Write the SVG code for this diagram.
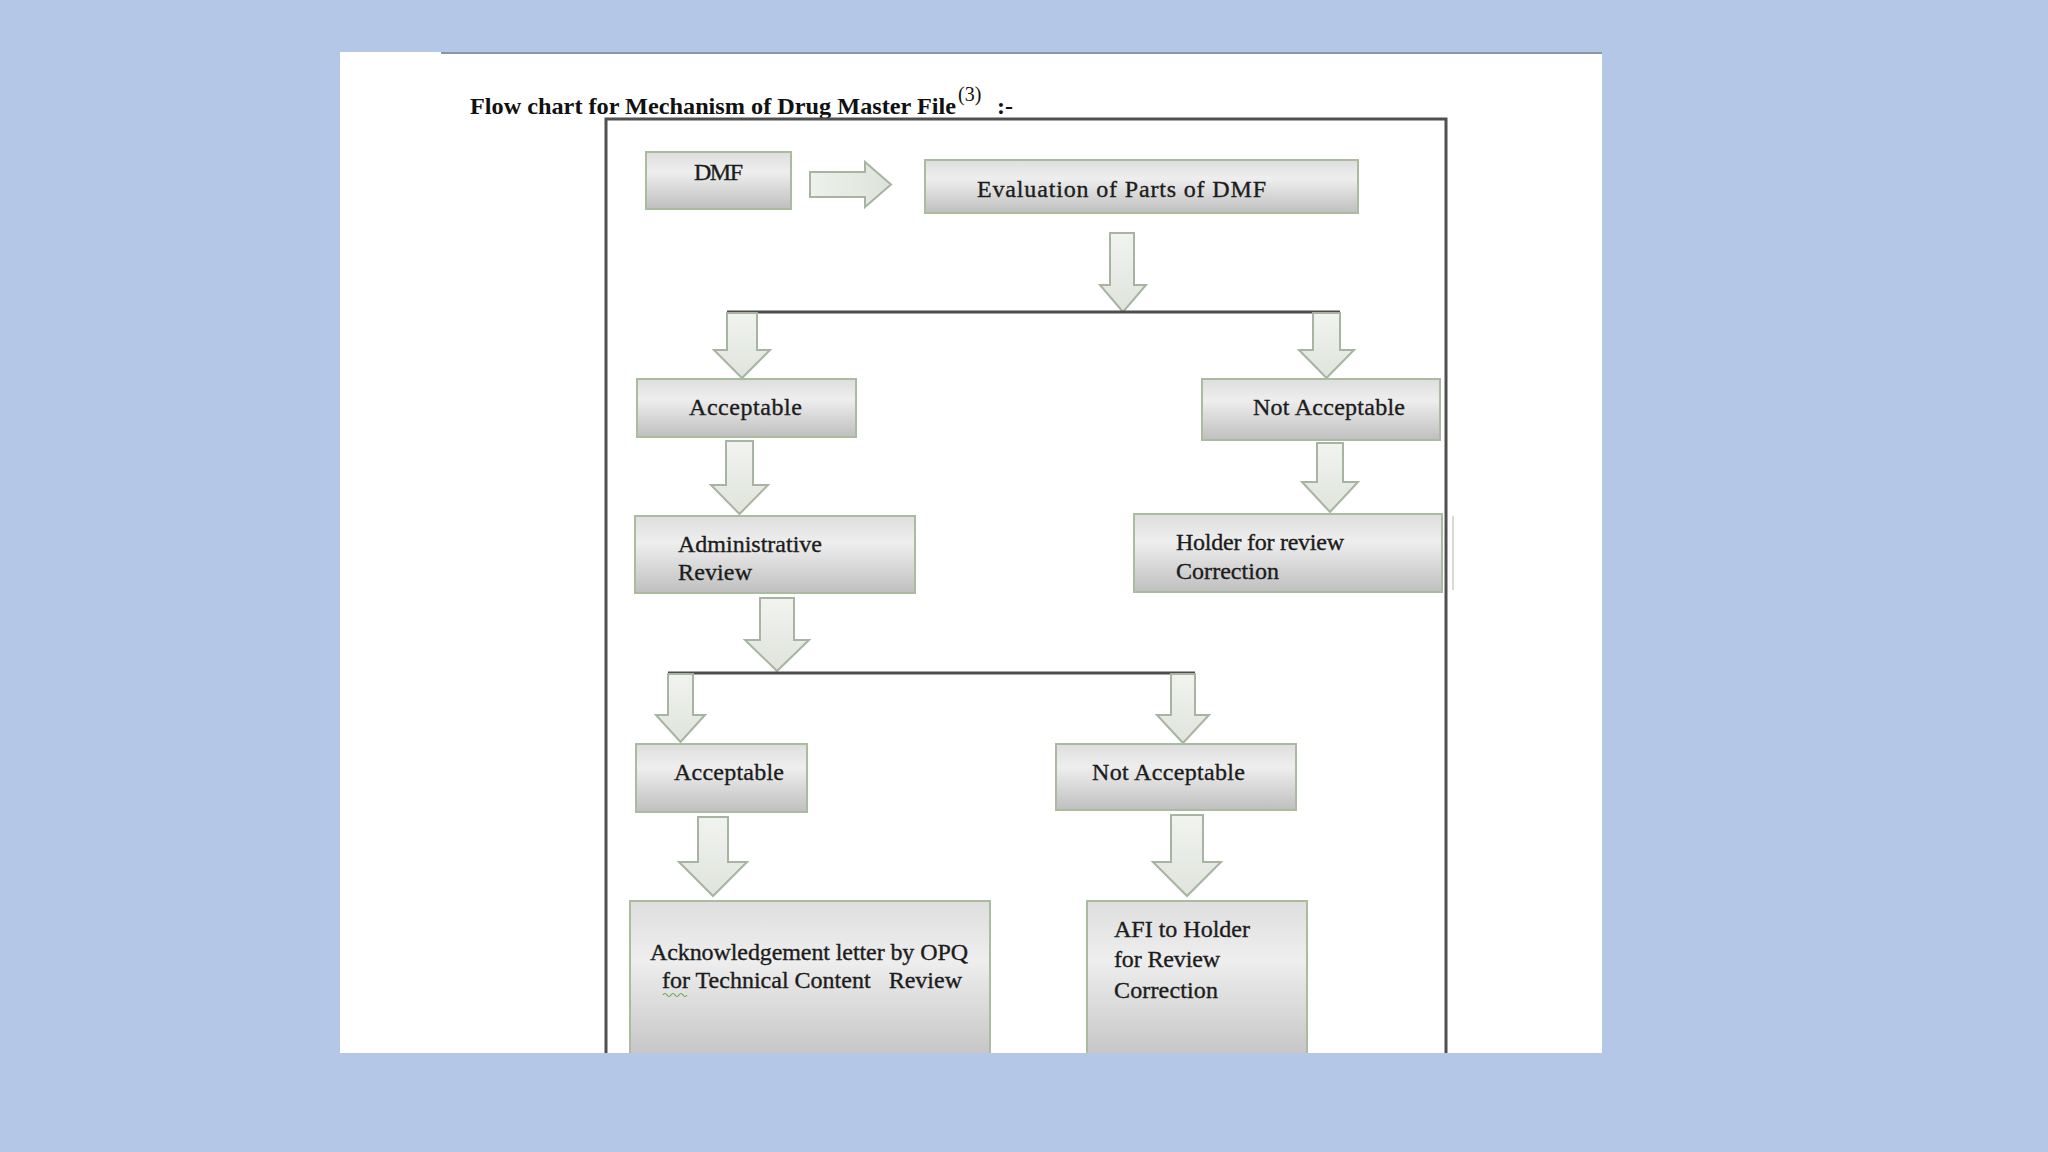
<svg xmlns="http://www.w3.org/2000/svg" width="2048" height="1152" viewBox="0 0 2048 1152">
  <defs>
    <linearGradient id="boxGrad" x1="0" y1="0" x2="0" y2="1">
      <stop offset="0" stop-color="#dedede"/>
      <stop offset="0.35" stop-color="#eeeeee"/>
      <stop offset="1" stop-color="#bfbfbf"/>
    </linearGradient>
    <linearGradient id="arrowGrad" x1="0" y1="0" x2="0" y2="1">
      <stop offset="0" stop-color="#f1f3ef"/>
      <stop offset="1" stop-color="#dfe4dc"/>
    </linearGradient>
    <linearGradient id="arrowGradH" x1="0" y1="0" x2="1" y2="0">
      <stop offset="0" stop-color="#eef1ec"/>
      <stop offset="1" stop-color="#dde3da"/>
    </linearGradient>
    <clipPath id="panelClip">
      <rect x="340" y="52" width="1262" height="1001"/>
    </clipPath>
  </defs>
  <style>
    .box { fill: url(#boxGrad); stroke: #a9bc9f; stroke-width: 2; }
    .arrow { fill: url(#arrowGrad); stroke: #a7b4a1; stroke-width: 2; stroke-linejoin: miter; }
    .line { stroke: #4d4d4d; stroke-width: 3; fill: none; }
    .lbl { font-family: "Liberation Serif", "Times New Roman", serif; font-size: 24px; fill: #1c1c1c; stroke: #1c1c1c; stroke-width: 0.35; }
    .ttl { font-family: "Liberation Serif", "Times New Roman", serif; font-size: 24px; font-weight: bold; fill: #111; }
  </style>

  <rect x="0" y="0" width="2048" height="1152" fill="#b4c7e7"/>
  <rect x="340" y="52" width="1262" height="1001" fill="#ffffff"/>
  <line x1="441" y1="53" x2="1602" y2="53" stroke="#8b97a8" stroke-width="2"/>

  <g id="title">
    <text class="ttl" x="470" y="114" textLength="486" lengthAdjust="spacingAndGlyphs">Flow chart for Mechanism of Drug Master File</text>
    <text x="958" y="101" font-family="Liberation Serif, serif" font-size="20" fill="#111">(3)</text>
    <text class="ttl" x="997" y="114">:-</text>
  </g>

  <g clip-path="url(#panelClip)">
    <g id="connectors">
      <path class="arrow" d="M810 172 L865 172 L865 162 L891 184.5 L865 207 L865 197 L810 197 Z" style="fill:url(#arrowGradH)"/>
      <path class="arrow" d="M1110 233 L1134 233 L1134 285 L1146 285 L1123 312 L1100 285 L1110 285 Z"/>
      <line class="line" x1="727" y1="312" x2="1340" y2="312"/>
      <path class="arrow" d="M727 313 L757 313 L757 350 L770 350 L742 378 L714 350 L727 350 Z"/>
      <path class="arrow" d="M1313 313 L1340 313 L1340 350 L1354 350 L1326.5 378 L1299 350 L1313 350 Z"/>
      <path class="arrow" d="M726 441 L753 441 L753 485 L768 485 L739.5 514 L711 485 L726 485 Z"/>
      <path class="arrow" d="M1317 443 L1343 443 L1343 482 L1358 482 L1330 512 L1302 482 L1317 482 Z"/>
      <path class="arrow" d="M760 598 L794 598 L794 640 L809 640 L777 671 L745 640 L760 640 Z"/>
      <line class="line" x1="668" y1="673" x2="1195" y2="673"/>
      <path class="arrow" d="M668 674 L693 674 L693 715 L705 715 L680.5 742 L656 715 L668 715 Z"/>
      <path class="arrow" d="M1171 674 L1195 674 L1195 715 L1209 715 L1183 743 L1157 715 L1171 715 Z"/>
      <path class="arrow" d="M698 817 L728 817 L728 862 L747 862 L713 896 L679 862 L698 862 Z"/>
      <path class="arrow" d="M1171 815 L1203 815 L1203 862 L1221 862 L1187 896 L1153 862 L1171 862 Z"/>
    </g>

    <g id="node-dmf">
      <rect class="box" x="646" y="152" width="145" height="57"/>
      <text class="lbl" x="694" y="180" textLength="49">DMF</text>
    </g>
    <g id="node-evaluation">
      <rect class="box" x="925" y="160" width="433" height="53"/>
      <text class="lbl" x="977" y="197" textLength="289">Evaluation of Parts of DMF</text>
    </g>
    <g id="node-acceptable-1">
      <rect class="box" x="637" y="379" width="219" height="58"/>
      <text class="lbl" x="689" y="415" textLength="113">Acceptable</text>
    </g>
    <g id="node-not-acceptable-1">
      <rect class="box" x="1202" y="379" width="238" height="61"/>
      <text class="lbl" x="1253" y="415" textLength="152">Not Acceptable</text>
    </g>
    <g id="node-administrative-review">
      <rect class="box" x="635" y="516" width="280" height="77"/>
      <text class="lbl" x="678" y="552" textLength="144">Administrative</text>
      <text class="lbl" x="678" y="580" textLength="74">Review</text>
    </g>
    <g id="node-holder-correction">
      <rect class="box" x="1134" y="514" width="308" height="78"/>
      <line x1="1453" y1="516" x2="1453" y2="590" stroke="#c8cfc4" stroke-width="1.5"/>
      <text class="lbl" x="1176" y="550" textLength="168">Holder for review</text>
      <text class="lbl" x="1176" y="579" textLength="103">Correction</text>
    </g>
    <g id="node-acceptable-2">
      <rect class="box" x="636" y="744" width="171" height="68"/>
      <text class="lbl" x="674" y="780" textLength="110">Acceptable</text>
    </g>
    <g id="node-not-acceptable-2">
      <rect class="box" x="1056" y="744" width="240" height="66"/>
      <text class="lbl" x="1092" y="780" textLength="153">Not Acceptable</text>
    </g>
    <g id="node-acknowledgement">
      <rect class="box" x="630" y="901" width="360" height="170"/>
      <text class="lbl" x="650" y="960" textLength="318">Acknowledgement letter by OPQ</text>
      <text class="lbl" x="662" y="988" textLength="300" xml:space="preserve">for Technical Content   Review</text>
      <path d="M663 995 q2 -3 4 0 t4 0 t4 0 t4 0 t4 0 t4 0" fill="none" stroke="#6aa84f" stroke-width="1.2"/>
    </g>
    <g id="node-afi">
      <rect class="box" x="1087" y="901" width="220" height="170"/>
      <text class="lbl" x="1114" y="937" textLength="136">AFI to Holder</text>
      <text class="lbl" x="1114" y="967" textLength="106">for Review</text>
      <text class="lbl" x="1114" y="998" textLength="104">Correction</text>
    </g>

    <rect id="frame" x="606" y="119" width="840" height="980" fill="none" stroke="#505050" stroke-width="3"/>
  </g>
</svg>
